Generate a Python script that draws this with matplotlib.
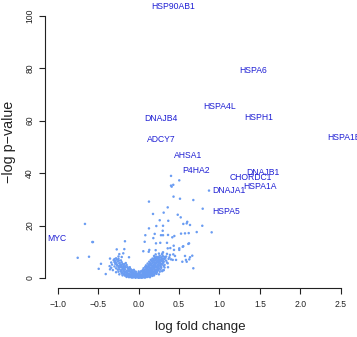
import matplotlib
matplotlib.use("Agg")
import matplotlib.pyplot as plt

plt.rcParams['font.family'] = ['Liberation Sans', 'DejaVu Sans']

# ---------------- data ----------------
genes = ["HSP90AB1", "HSPA6", "HSPA4L", "HSPH1", "DNAJB4", "ADCY7", "HSPA1B",
         "AHSA1", "P4HA2", "DNAJB1", "CHORDC1", "DNAJA1", "HSPA1A", "HSPA5", "MYC"]
gene_lfc = [0.43, 1.42, 1.006, 1.48, 0.272, 0.285, 2.537,
            0.612, 0.707, 1.535, 1.386, 1.12, 1.505, 1.087, -1.015]
gene_nlp = [103.6, 79.2, 65.5, 61.1, 60.8, 52.6, 53.6,
            46.5, 41.1, 40.1, 38.4, 33.5, 34.8, 25.3, 14.9]

# sparse genes (outside the dense cloud)
lfc_sparse = [-0.665, -0.574, -0.566, -0.755, -0.615, -0.467, -0.495, -0.408, -0.355, -0.355,
              -0.272, -0.170, -0.178, -0.240, -0.191, -0.120, 0.127, 0.359, 0.676, 0.177,
              0.309, 0.483, 0.520, 0.792, 0.260, 0.366, 0.601, 0.594, 0.552, 0.635,
              0.787, 0.218, 0.301, 0.127, 0.297, 0.082, 0.198, 0.276, 0.301, 0.363,
              0.416, 0.441, 0.524, 0.573, 0.619, 0.718, 0.181, 0.074, 0.267, 0.214,
              0.350, 0.433, 0.131, 0.124, 0.210, 0.301, 0.292, 0.359, 0.391, 0.437,
              0.502, 0.552, 0.623, 0.057, 0.428, 0.387, 0.573, 0.663, 0.626, 0.540,
              0.594, 0.676, 0.400, 0.359, 0.304, 0.363, 0.400, 0.502, 0.400, 0.870,
              0.431, 0.511, 0.903, 0.428, 0.408, 0.614, 0.545, 0.502, 0.635, 0.585,
              0.449, 0.462, 0.421]
nlp_sparse = [20.6, 13.7, 13.7, 7.7, 8.1, 5.4, 3.5, 1.5, 7.4, 3.3,
              10.9, 14.0, 11.0, 9.1, 9.4, 7.9, 29.1, 26.9, 29.7, 24.4,
              24.9, 24.1, 23.1, 26.4, 22.0, 21.8, 21.4, 20.8, 20.6, 20.2,
              19.9, 19.8, 19.9, 18.9, 18.0, 16.3, 16.8, 16.3, 16.3, 16.4,
              15.5, 16.0, 16.9, 17.0, 17.1, 17.5, 15.2, 13.8, 13.4, 13.2,
              13.4, 12.3, 10.7, 10.0, 10.6, 9.8, 9.3, 11.3, 11.4, 10.7,
              10.7, 12.1, 13.2, 10.2, 9.0, 8.8, 8.4, 8.5, 7.1, 6.2,
              6.2, 3.7, 7.1, 5.6, 3.0, 4.1, 38.9, 37.2, 35.2, 33.3,
              31.0, 30.2, 17.4, 35.5, 34.8, 13.0, 11.9, 11.3, 7.9, 6.9,
              8.4, 6.9, 6.9]

# dense cloud near the origin (first layer)
lfc_core = [
    -0.07, -0.04, -0.02, 0.00, 0.01, 0.03, 0.05, 0.07, 0.09,
    -0.10, -0.08, -0.05, -0.03, -0.01, 0.01, 0.02, 0.04, 0.06, 0.08, 0.10, 0.12,
    -0.13, -0.11, -0.09, -0.06, -0.04, -0.02, 0.00, 0.02, 0.03, 0.05, 0.07, 0.09, 0.11, 0.13, 0.15,
    -0.16, -0.13, -0.10, -0.08, -0.06, -0.03, -0.01, 0.01, 0.04, 0.06, 0.08, 0.10, 0.12, 0.14, 0.16, 0.18,
    -0.18, -0.15, -0.12, -0.09, -0.06, -0.04, 0.00, 0.02, 0.05, 0.07, 0.09, 0.11, 0.13, 0.15, 0.17, 0.20,
    -0.20, -0.17, -0.14, -0.11, -0.08, -0.05, 0.03, 0.06, 0.08, 0.10, 0.12, 0.14, 0.16, 0.19, 0.21,
    -0.22, -0.19, -0.15, -0.12, -0.09, -0.06, 0.05, 0.07, 0.10, 0.12, 0.15, 0.17, 0.20, 0.23,
    -0.24, -0.20, -0.17, -0.13, -0.10, 0.06, 0.09, 0.11, 0.14, 0.16, 0.19, 0.22, 0.24,
    -0.25, -0.22, -0.18, -0.14, -0.11, 0.08, 0.10, 0.13, 0.16, 0.18, 0.21, 0.24, 0.27,
    -0.27, -0.23, -0.19, -0.15, 0.09, 0.12, 0.15, 0.18, 0.20, 0.23, 0.26, 0.29,
    -0.29, -0.24, -0.20, -0.16, 0.11, 0.14, 0.17, 0.20, 0.22, 0.25, 0.28,
    -0.30, -0.26, -0.21, 0.13, 0.16, 0.19, 0.22, 0.25, 0.28, 0.31,
    -0.31, -0.27, -0.22, 0.15, 0.18, 0.21, 0.24, 0.27, 0.30,
    -0.28, 0.17, 0.20, 0.23, 0.26, 0.30, 0.33,
    -0.25, 0.19, 0.22, 0.26, 0.30, 0.34,
    0.21, 0.25, 0.29, 0.35,
]
nlp_core = [
    0.2, 0.1, 0.3, 0.1, 0.2, 0.1, 0.3, 0.2, 0.4,
    0.5, 0.3, 0.4, 0.6, 0.3, 0.5, 0.7, 0.4, 0.6, 0.3, 0.5, 0.7,
    0.8, 0.6, 0.9, 0.7, 1.0, 0.8, 0.6, 0.9, 1.1, 0.7, 0.9, 0.6, 0.8, 1.0, 0.9,
    1.1, 1.3, 1.0, 1.4, 1.2, 1.5, 1.3, 1.6, 1.2, 1.4, 1.1, 1.3, 1.5, 1.2, 1.4, 1.3,
    1.6, 1.8, 1.5, 1.9, 1.7, 2.0, 1.9, 2.1, 1.6, 1.8, 2.0, 1.7, 1.9, 1.6, 1.8, 1.7,
    2.1, 2.3, 2.0, 2.4, 2.2, 2.5, 2.6, 2.2, 2.4, 2.1, 2.5, 2.3, 2.1, 2.4, 2.2,
    2.7, 2.9, 2.6, 3.0, 2.8, 3.1, 3.0, 2.7, 2.9, 3.2, 2.6, 2.8, 3.0, 2.7,
    3.3, 3.5, 3.2, 3.6, 3.4, 3.7, 3.3, 3.5, 3.8, 3.4, 3.6, 3.3, 3.5,
    4.0, 4.2, 3.9, 4.3, 4.1, 4.2, 4.0, 4.4, 3.9, 4.1, 4.3, 4.0, 4.2,
    4.7, 4.9, 4.6, 5.0, 4.8, 4.6, 5.0, 4.7, 4.9, 4.6, 4.8, 5.1,
    5.4, 5.6, 5.3, 5.7, 5.5, 5.3, 5.6, 5.4, 5.8, 5.5, 5.3,
    6.1, 6.3, 6.0, 6.2, 6.4, 6.0, 6.3, 6.1, 6.4, 6.2,
    6.8, 7.0, 6.7, 6.9, 6.7, 7.1, 6.8, 7.0, 6.7,
    7.5, 7.4, 7.7, 7.5, 7.8, 7.4, 7.6,
    8.2, 8.4, 8.1, 8.5, 8.3, 8.2,
    9.0, 9.3, 8.9, 9.2,
]

# dense cloud near the origin (second layer, between the first)
lfc_core2 = [
    -0.15, -0.12, -0.09, -0.06, -0.035, -0.015, 0.005, 0.025, 0.045, 0.065, 0.085, 0.11, 0.14,
    -0.20, -0.17, -0.145, -0.115, -0.085, -0.05, -0.025, -0.005, 0.015, 0.035, 0.055, 0.075,
    0.095, 0.115, 0.14, 0.17, 0.19,
    -0.24, -0.21, -0.185, -0.16, -0.135, -0.105, -0.075, -0.05, -0.02, 0.01, 0.035, 0.06,
    0.08, 0.105, 0.125, 0.145, 0.165, 0.185, 0.22, 0.25,
    -0.28, -0.25, -0.215, -0.185, -0.155, -0.125, -0.095, -0.07, -0.035, 0.0, 0.045, 0.07,
    0.09, 0.115, 0.135, 0.155, 0.175, 0.2, 0.225, 0.26, 0.29,
    -0.32, -0.26, -0.215, -0.175, -0.14, -0.115, -0.085, 0.07, 0.1, 0.125, 0.145, 0.17,
    0.195, 0.215, 0.245, 0.27, 0.31,
    -0.34, -0.28, -0.235, -0.195, -0.16, -0.125, 0.095, 0.12, 0.145, 0.17, 0.195, 0.225,
    0.25, 0.28, 0.32,
    -0.36, -0.30, -0.25, -0.21, -0.17, 0.10, 0.135, 0.165, 0.19, 0.215, 0.245, 0.275, 0.31,
    -0.33, -0.27, -0.215, -0.18, 0.125, 0.155, 0.185, 0.21, 0.24, 0.27, 0.32,
    -0.34, -0.28, -0.235, 0.145, 0.175, 0.205, 0.235, 0.265, 0.30, 0.35,
    -0.29, -0.245, 0.165, 0.20, 0.23, 0.26, 0.295, 0.34,
    -0.30, -0.25, 0.185, 0.215, 0.25, 0.285, 0.32, 0.37,
    -0.21, 0.20, 0.24, 0.28, 0.32, 0.38,
]
nlp_core2 = [
    0.4, 0.3, 0.2, 0.5, 0.3, 0.6, 0.4, 0.5, 0.2, 0.5, 0.3, 0.4, 0.3,
    1.0, 0.9, 0.7, 1.1, 0.8, 1.0, 0.7, 1.1, 0.9, 0.8, 1.0, 1.2,
    0.7, 1.1, 0.9, 0.8, 1.0,
    1.4, 1.7, 1.5, 1.3, 1.6, 1.4, 1.8, 1.5, 1.7, 1.4, 1.3, 1.6,
    1.5, 1.8, 1.4, 1.7, 1.5, 1.3, 1.6, 1.4,
    2.2, 2.4, 2.3, 2.5, 2.1, 2.6, 2.3, 2.2, 2.4, 2.5, 2.3, 2.6,
    2.2, 2.7, 2.4, 2.6, 2.3, 2.5, 2.2, 2.4, 2.6,
    3.0, 3.2, 3.1, 3.3, 2.9, 3.2, 3.0, 3.1, 3.3, 2.9, 3.2, 3.1,
    3.3, 2.9, 3.1, 3.2, 3.0,
    3.9, 3.7, 4.1, 3.8, 4.0, 3.7, 3.8, 4.1, 3.7, 4.0, 3.8, 4.1,
    3.7, 3.9, 4.0,
    4.5, 4.4, 4.6, 4.3, 4.5, 4.4, 4.3, 4.6, 4.4, 4.3, 4.5, 4.4, 4.6,
    5.1, 5.2, 5.0, 5.3, 5.1, 5.2, 5.0, 5.2, 5.1, 5.3, 5.0,
    5.9, 5.8, 5.7, 5.8, 5.9, 5.7, 5.9, 5.8, 5.7, 5.9,
    6.5, 6.6, 6.5, 6.6, 6.5, 6.6, 6.5, 6.6,
    7.2, 7.3, 7.2, 7.3, 7.2, 7.3, 7.2, 7.3,
    8.0, 7.9, 8.0, 7.9, 8.0, 7.9,
]

x_ticks = [-1.0, -0.5, 0.0, 0.5, 1.0, 1.5, 2.0, 2.5]
y_ticks = [0, 20, 40, 60, 80, 100]

# ---------------- figure ----------------
W, H = 357, 337
fig = plt.figure(figsize=(W / 100, H / 100), dpi=100)

# pixel geometry of the plot region
left_px, right_px, bottom_px, top_px = 45.3, 355.0, 288.3, 0.0
ax = fig.add_axes([left_px / W, 1 - bottom_px / H,
                   (right_px - left_px) / W, (bottom_px - top_px) / H])
# data->pixel: px = 138.7 + 80.8*x ; py = 278 - 2.625*y
ax.set_xlim((left_px - 138.7) / 80.8, (right_px - 138.7) / 80.8)
ax.set_ylim((278 - bottom_px) / 2.625, (278 - top_px) / 2.625)

pt_color = '#6a9cf2'
ax.scatter(lfc_core, nlp_core, s=3.2, c=pt_color, edgecolors='none')
ax.scatter(lfc_core2, nlp_core2, s=3.2, c=pt_color, edgecolors='none')
ax.scatter(lfc_sparse, nlp_sparse, s=3.2, c=pt_color, edgecolors='none')

lab_color = '#1f1fd4'
for g, xv, yv in zip(genes, gene_lfc, gene_nlp):
    ax.text(xv, yv, g, color=lab_color, fontsize=6.2, ha='center', va='center',
            clip_on=False)

for s in ['top', 'right']:
    ax.spines[s].set_visible(False)
ax.spines['left'].set_bounds(0, 100)
ax.spines['bottom'].set_bounds(-1.0, 2.5)
for s in ['left', 'bottom']:
    ax.spines[s].set_linewidth(0.8)
    ax.spines[s].set_color('#222222')

ax.set_xticks(x_ticks)
ax.set_xticklabels([f"{t:.1f}".replace('-', '\u2212') for t in x_ticks])
ax.set_yticks(y_ticks)
ax.set_yticklabels([str(t) for t in y_ticks], rotation=90, va='center')
ax.tick_params(axis='both', length=4, width=0.8, color='#222222',
               labelsize=6.2, labelcolor='#222222')
ax.tick_params(axis='x', pad=4.5)
ax.tick_params(axis='y', pad=4)

fig.text(200 / W, 1 - 327 / H, 'log fold change', ha='center', va='center',
         fontsize=9.6, color='#222222')
fig.text(9 / W, 1 - 142 / H, '\u2212log p\u2212value', ha='center', va='center',
         rotation=90, fontsize=10.3, color='#222222')

fig.savefig('out.png', dpi=100)
